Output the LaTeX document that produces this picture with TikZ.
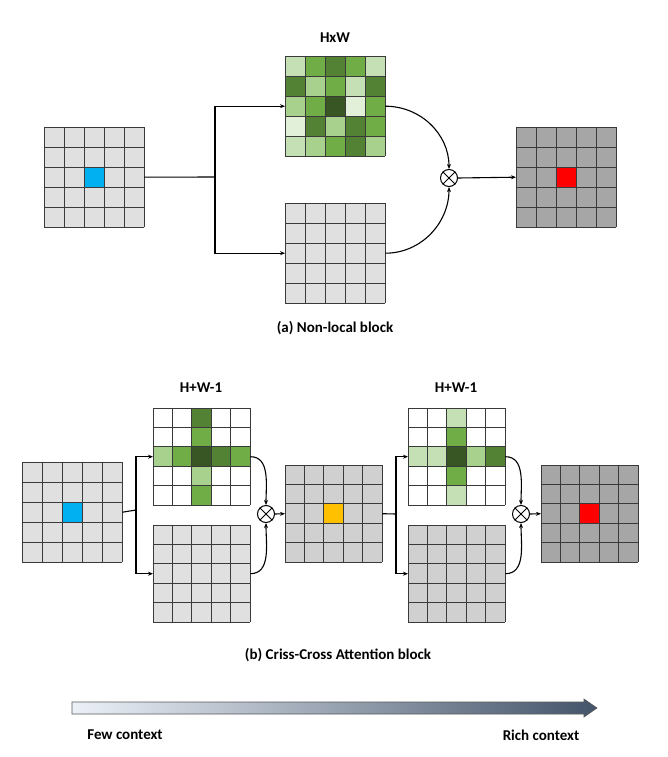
\documentclass[tikz,border=0pt]{standalone}
\usepackage{fontspec}
\setmainfont{Carlito}
\usetikzlibrary{arrows.meta}
\definecolor{gA}{HTML}{E2F0D9}
\definecolor{gB}{HTML}{C5E0B4}
\definecolor{gC}{HTML}{A9D18E}
\definecolor{gD}{HTML}{70AD47}
\definecolor{gE}{HTML}{548235}
\definecolor{gF}{HTML}{375623}
\definecolor{inG}{HTML}{E0E0E0}
\definecolor{midG}{HTML}{D0D0D0}
\definecolor{outG}{HTML}{A6A6A6}
\definecolor{bl}{HTML}{00B0F0}
\definecolor{org}{HTML}{FFC000}
\definecolor{lineG}{HTML}{3A3A3A}
\newcommand\Grid[6]{%
 \node[inner sep=0,minimum size=5*#4pt,anchor=north west,fill=#5] (#1) at (#2,#3) {};
 \foreach \r/\c/\col in {#6} \fill[\col] (#2+\c*#4-#4,#3+\r*#4-#4) rectangle ++(#4,#4);
 \foreach \i in {0,...,5} {\draw[lineG,line width=0.8pt] (#2+\i*#4,#3) -- ++(0,5*#4);
   \draw[lineG,line width=0.8pt] (#2,#3+\i*#4) -- ++(5*#4,0);}
}
\tikzset{arr/.style={-{Stealth[length=5pt,width=4pt]},line width=1.1pt},
 ln/.style={line width=1.1pt},
 otimes/.style={circle,draw,line width=1pt,minimum size=17pt,inner sep=0},
 ttl/.style={font=\bfseries\fontsize{15}{17}\selectfont}}
\begin{document}
\begin{tikzpicture}[x=1pt,y=-1pt]
\useasboundingbox (0,0) rectangle (668,757);
% (a)
\Grid{ain}{44}{127}{20}{inG}{3/3/bl}
\Grid{ag}{285}{56}{20}{white}{1/1/gB,1/2/gD,1/3/gE,1/4/gD,1/5/gB,2/1/gE,2/2/gC,2/3/gD,2/4/gB,2/5/gE,3/1/gC,3/2/gD,3/3/gF,3/4/gA,3/5/gD,4/1/gA,4/2/gE,4/3/gC,4/4/gE,4/5/gD,5/1/gB,5/2/gC,5/3/gD,5/4/gE,5/5/gC}
\Grid{ab}{285}{203}{20}{inG}{1/1/inG}
\Grid{aout}{516}{127}{20}{outG}{3/3/red}
\node[ttl] at (335,38) {HxW};
\node[otimes] (ao) at (449,178) {};
\draw[line width=1pt] (ao.45)--(ao.225) (ao.135)--(ao.315);
\coordinate (ab1) at (215,177);
\draw[ln] (ain.east) -- (ab1);
\draw[arr] (ab1) |- (ag.west);
\draw[arr] (ab1) |- (ab.west);
\draw[arr] (ag.east) to[out=0,in=90] (ao.north);
\draw[arr] (ab.east) to[out=0,in=-90] (ao.south);
\draw[arr] (ao.east) -- (aout.west);
\node[ttl] at (335,328) {(a) Non-local block};
% (b)
\Grid{bin}{22}{462}{20}{inG}{3/3/bl}
\Grid{bc1}{153}{408}{19.4}{white}{1/3/gE,2/3/gD,3/1/gC,3/2/gD,3/3/gF,3/4/gE,3/5/gD,4/3/gC,5/3/gD}
\Grid{bg1}{153}{525}{19.4}{inG}{1/1/inG}
\Grid{bmid}{285}{465}{19.4}{midG}{3/3/org}
\Grid{bc2}{408}{408}{19.4}{white}{1/3/gB,2/3/gD,3/1/gB,3/2/gB,3/3/gF,3/4/gC,3/5/gE,4/3/gD,5/3/gB}
\Grid{bg2}{408}{525}{19.4}{midG}{1/1/midG}
\Grid{bout}{541}{465}{19.4}{outG}{3/3/red}
\node[ttl] at (201,388) {H+W-1};
\node[ttl] at (456,388) {H+W-1};
\node[otimes] (bo1) at (266,514) {};
\draw[line width=1pt] (bo1.45)--(bo1.225) (bo1.135)--(bo1.315);
\node[otimes] (bo2) at (521,514) {};
\draw[line width=1pt] (bo2.45)--(bo2.225) (bo2.135)--(bo2.315);
\coordinate (bb1) at (136,510);
\draw[ln] (bin.east) -- (bb1);
\draw[arr] (bb1) |- (bc1.west);
\draw[arr] (bb1) |- (bg1.west);
\draw[arr] (bc1.east) to[out=0,in=90] (bo1.north);
\draw[arr] (bg1.east) to[out=0,in=-90] (bo1.south);
\draw[arr] (bo1.east) -- (bmid.west);
\coordinate (bb2) at (396,514);
\draw[ln] (bmid.east) -- (bb2);
\draw[arr] (bb2) |- (bc2.west);
\draw[arr] (bb2) |- (bg2.west);
\draw[arr] (bc2.east) to[out=0,in=90] (bo2.north);
\draw[arr] (bg2.east) to[out=0,in=-90] (bo2.south);
\draw[arr] (bo2.east) -- (bout.west);
\node[ttl] at (338,655) {(b) Criss-Cross Attention block};
% gradient arrow
\shade[left color={rgb,255:red,236;green,241;blue,248},right color={rgb,255:red,68;green,84;blue,106},draw=gray!70!black,line width=0.6pt]
 (72,702) -- (584,702) -- (584,699) -- (597,708) -- (584,717) -- (584,714) -- (72,714) -- cycle;
\node[ttl] at (125,735) {Few context};
\node[ttl] at (541,735) {Rich context};
\end{tikzpicture}
\end{document}
